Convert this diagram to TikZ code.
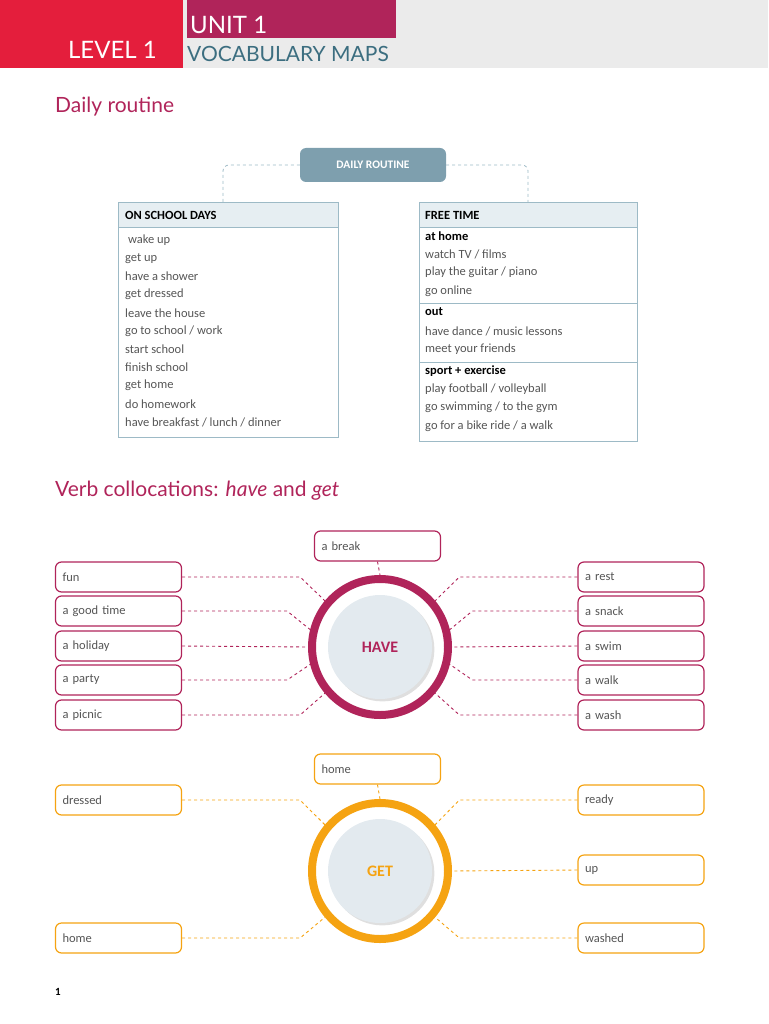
\documentclass[tikz,border=0pt]{standalone}
\usepackage{fontspec}
\setmainfont{Carlito}
\newfontfamily\headfont{Lato}
\usetikzlibrary{positioning,shadows}
\definecolor{lvred}{HTML}{E41E3C}
\definecolor{unitmag}{HTML}{B0245A}
\definecolor{hdrgrey}{HTML}{EBEBEB}
\definecolor{vocteal}{HTML}{3C6E80}
\definecolor{drbox}{HTML}{7E9FAE}
\definecolor{tabline}{HTML}{9DBAC6}
\definecolor{tabhead}{HTML}{E6EEF2}
\definecolor{getorange}{HTML}{F5A312}
\definecolor{core}{HTML}{E3EAEF}
\definecolor{txtgrey}{HTML}{555555}
\tikzset{
  item/.style={anchor=west,inner sep=0pt,font=\fontsize{12.5}{14}\selectfont,text=txtgrey},
  boldit/.style={item,text=black,font=\fontsize{12.5}{14}\selectfont\bfseries},
  tabhd/.style={draw=tabline,fill=tabhead,line width=0.8pt},
  tabbody/.style={draw=tabline,line width=0.8pt},
  drlink/.style={draw=tabline,dashed,line width=0.8pt,rounded corners=6pt},
  vbox/.style={draw=#1,line width=1.2pt,rounded corners=6pt,fill=white,
    minimum height=30pt,text width=112pt,inner xsep=7pt,align=left,
    font=\fontsize{12.5}{14}\selectfont,text=txtgrey},
  vlink/.style={draw=#1,dashed,line width=0.9pt},
  ring/.style={circle,draw=#1,line width=8pt,minimum size=136pt},
  hub/.style={circle,fill=core,minimum size=104pt,drop shadow={opacity=0.25},
    font=\fontsize{16}{18}\selectfont\bfseries,text=#1},
}
\begin{document}
\begin{tikzpicture}[x=1pt,y=-1pt]
\useasboundingbox (0,0) rectangle (768,1024);
% header
\fill[hdrgrey] (0,0) rectangle (768,68);
\fill[lvred] (0,0) rectangle (183,68);
\fill[unitmag] (187,0) rectangle (396,38);
\node[anchor=base west,inner sep=0pt,text=white,font=\headfont\fontsize{24}{26}\selectfont] (unit) at (190,34) {UNIT 1};
\node[anchor=base east,inner sep=0pt,text=white,font=\headfont\fontsize{24}{26}\selectfont] (level) at (157,59) {LEVEL 1};
\node[anchor=base west,inner sep=0pt,text=vocteal,font=\headfont\fontsize{21}{24}\selectfont] (vocab) at (187,62) {VOCABULARY MAPS};
% daily routine
\node[anchor=base west,inner sep=0pt,text=unitmag,font=\headfont\fontsize{21}{24}\selectfont] (title1) at (55,113) {Daily routine};
\node[fill=drbox,rounded corners=6pt,minimum width=146pt,minimum height=34pt,text=white,font=\fontsize{11.5}{13}\selectfont\bfseries] (daily) at (373,165) {DAILY ROUTINE};
\draw[tabhd] (118,202) rectangle (338,227);
\draw[tabbody] (118,227) rectangle (338,437);
\draw[tabhd] (419,202) rectangle (637,227);
\draw[tabbody] (419,227) rectangle (637,303);
\draw[tabbody] (419,303) rectangle (637,362);
\draw[tabbody] (419,362) rectangle (637,441);
\coordinate (school) at (223,202);
\coordinate (free) at (528,202);
\draw[drlink] (daily.west) -| (school);
\draw[drlink] (daily.east) -| (free);
\node[boldit] (hschool) at (125,215) {ON SCHOOL DAYS};
\node[boldit] (hfree) at (425,215) {FREE TIME};
\foreach \t [count=\i] in {\ wake up,get up,have a shower,get dressed,leave the house,
  go to school / work,start school,finish school,get home,do homework,
  have breakfast / lunch / dinner}
  \node[item] (s\i) at (125,{240+18.2*(\i-1)}) {\t};
\node[boldit] (athome) at (425,236) {at home};
\foreach \t [count=\i] in {watch TV / films,play the guitar / piano,go online}
  \node[item] (h\i) at (425,{254+18.5*(\i-1)}) {\t};
\node[boldit] (out) at (425,312) {out};
\node[item] (o1) at (425,331) {have dance / music lessons};
\node[item] (o2) at (425,349) {meet your friends};
\node[boldit] (sport) at (425,371) {sport + exercise};
\foreach \t [count=\i] in {play football / volleyball,go swimming / to the gym,go for a bike ride / a walk}
  \node[item] (p\i) at (425,{389+18.5*(\i-1)}) {\t};
% verb collocations
\node[anchor=base west,inner sep=0pt,text=unitmag,font=\headfont\fontsize{21}{24}\selectfont] (title2) at (55,496) {Verb collocations: \textit{have} and \textit{get}};
% have
\node[ring=unitmag] (have) at (380,647) {};
\node[hub=unitmag] (havecore) at (380,647) {HAVE};
\node[vbox=unitmag] (break) at (377.5,546) {a break};
\draw[vlink=unitmag] (break.south) -- (have.north);
\foreach \t/\y/\a/\d [count=\i] in {fun/577/140/118,a good time/611/166/105,a holiday/646/180/0,a party/680/194/105,a picnic/715/220/118}{
  \node[vbox=unitmag] (hl\i) at (118.5,\y) {\t};
  \draw[vlink=unitmag] (hl\i.east) -- ++(\d,0) -- (have.\a);
}
\foreach \t/\y/\a/\d [count=\i] in {a rest/577/40/118,a snack/611/14/105,a swim/646/0/0,a walk/680/-14/105,a wash/715/-40/118}{
  \node[vbox=unitmag] (hr\i) at (641,\y) {\t};
  \draw[vlink=unitmag] (hr\i.west) -- ++(-\d,0) -- (have.\a);
}
% get
\node[ring=getorange] (get) at (380,871) {};
\node[hub=getorange] (getcore) at (380,871) {GET};
\node[vbox=getorange] (ghome) at (377.5,769) {home};
\draw[vlink=getorange] (ghome.south) -- (get.north);
\node[vbox=getorange] (dressed) at (118.5,800) {dressed};
\node[vbox=getorange] (home) at (118.5,938) {home};
\node[vbox=getorange] (ready) at (641,800) {ready};
\node[vbox=getorange] (up) at (641,870) {up};
\node[vbox=getorange] (washed) at (641,938) {washed};
\draw[vlink=getorange] (dressed.east) -- ++(118,0) -- (get.140);
\draw[vlink=getorange] (home.east) -- ++(118,0) -- (get.220);
\draw[vlink=getorange] (ready.west) -- ++(-118,0) -- (get.40);
\draw[vlink=getorange] (washed.west) -- ++(-118,0) -- (get.-40);
\draw[vlink=getorange] (up.west) -- (get.east);
\node[anchor=base west,inner sep=0pt,font=\fontsize{11}{13}\selectfont\bfseries] (page) at (55,995) {1};
\end{tikzpicture}
\end{document}
